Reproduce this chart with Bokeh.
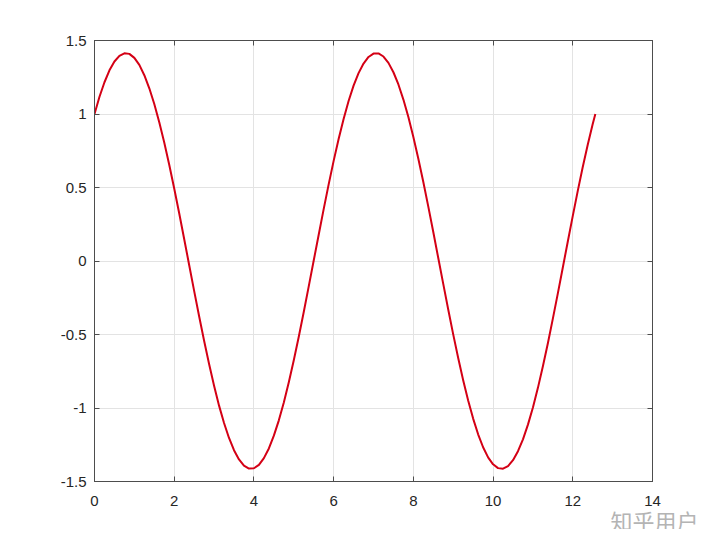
from bokeh.plotting import figure
from bokeh.models import LinearAxis, FixedTicker, Range1d, Title
from bokeh.embed import file_html
from bokeh.resources import INLINE

x_vals = [0.0, 0.125, 0.25, 0.375, 0.5, 0.625, 0.75, 0.875, 1.0, 1.125, 1.25, 1.375, 1.5,
          1.625, 1.75, 1.875, 2.0, 2.125, 2.25, 2.375, 2.5, 2.625, 2.75, 2.875, 3.0, 3.125,
          3.25, 3.375, 3.5, 3.625, 3.75, 3.875, 4.0, 4.125, 4.25, 4.375, 4.5, 4.625, 4.75,
          4.875, 5.0, 5.125, 5.25, 5.375, 5.5, 5.625, 5.75, 5.875, 6.0, 6.125, 6.25, 6.375,
          6.5, 6.625, 6.75, 6.875, 7.0, 7.125, 7.25, 7.375, 7.5, 7.625, 7.75, 7.875, 8.0,
          8.125, 8.25, 8.375, 8.5, 8.625, 8.75, 8.875, 9.0, 9.125, 9.25, 9.375, 9.5, 9.625,
          9.75, 9.875, 10.0, 10.125, 10.25, 10.375, 10.5, 10.625, 10.75, 10.875, 11.0,
          11.125, 11.25, 11.375, 11.5, 11.625, 11.75, 11.875, 12.0, 12.125, 12.25, 12.375,
          12.5, 12.566]
y_vals = [1.000, 1.117, 1.216, 1.297, 1.357, 1.396, 1.413, 1.409, 1.382, 1.334, 1.264, 1.175,
          1.068, 0.944, 0.806, 0.655, 0.493, 0.325, 0.150, -0.027, -0.203, -0.376, -0.543,
          -0.701, -0.849, -0.984, -1.102, -1.204, -1.287, -1.350, -1.392, -1.412, -1.410,
          -1.387, -1.341, -1.275, -1.188, -1.084, -0.962, -0.825, -0.675, -0.515, -0.347,
          -0.173, 0.003, 0.179, 0.353, 0.521, 0.681, 0.830, 0.966, 1.088, 1.193, 1.278,
          1.343, 1.388, 1.411, 1.412, 1.391, 1.348, 1.284, 1.201, 1.098, 0.979, 0.844,
          0.696, 0.537, 0.370, 0.197, 0.020, -0.156, -0.330, -0.499, -0.660, -0.811,
          -0.949, -1.072, -1.179, -1.267, -1.336, -1.383, -1.409, -1.413, -1.395, -1.355,
          -1.294, -1.213, -1.113, -0.996, -0.863, -0.716, -0.559, -0.392, -0.220, -0.044,
          0.133, 0.307, 0.477, 0.639, 0.791, 0.932, 1.000]

x_ticks = [0, 2, 4, 6, 8, 10, 12, 14]
x_tick_labels = ["0", "2", "4", "6", "8", "10", "12", "14"]
y_ticks = [-1.5, -1, -0.5, 0, 0.5, 1, 1.5]
y_tick_labels = ["-1.5", "-1", "-0.5", "0", "0.5", "1", "1.5"]
watermark = "知乎用户"

FONT = "Liberation Sans"
AX = "#4d4d4d"
TXT = "#262626"

p = figure(width=704, height=529, output_backend="svg", toolbar_location=None,
           x_range=Range1d(0, 14), y_range=Range1d(-1.5, 1.5),
           min_border_left=94, min_border_right=52, min_border_top=40, min_border_bottom=44)
p.background_fill_color = "white"
p.border_fill_color = "white"
p.outline_line_color = AX
p.outline_line_width = 1

p.line(x_vals, y_vals, line_color="#d40015", line_width=2, line_join="round")

def style(ax, ticks, labels, show, standoff):
    ax.ticker = FixedTicker(ticks=ticks)
    ax.major_label_overrides = {t: l for t, l in zip(ticks, labels)}
    ax.axis_line_color = AX
    ax.major_tick_line_color = AX
    ax.major_tick_in = 5
    ax.major_tick_out = 0
    ax.minor_tick_line_color = None
    ax.major_label_text_font = FONT
    ax.major_label_text_font_size = "15px"
    ax.major_label_text_color = TXT
    ax.major_label_standoff = standoff
    if not show:
        ax.major_label_text_alpha = 0
        ax.major_label_text_font_size = "1px"
        ax.major_label_standoff = 0

style(p.xaxis[0], x_ticks, x_tick_labels, True, 14)
style(p.yaxis[0], y_ticks, y_tick_labels, True, 8)
top = LinearAxis()
right = LinearAxis()
style(top, x_ticks, x_tick_labels, False, 0)
style(right, y_ticks, y_tick_labels, False, 0)
p.add_layout(top, "above")
p.add_layout(right, "right")

p.xgrid.ticker = FixedTicker(ticks=x_ticks)
p.ygrid.ticker = FixedTicker(ticks=y_ticks)
p.grid.grid_line_color = "#e3e3e3"
p.grid.grid_line_width = 1

p.add_layout(Title(text=watermark, align="left", offset=516, standoff=-13,
                   text_font="Noto Sans CJK SC", text_font_size="22px",
                   text_font_style="normal", text_color="#b4b4b4"), "below")

open("out.html", "w").write(file_html(p, INLINE))
